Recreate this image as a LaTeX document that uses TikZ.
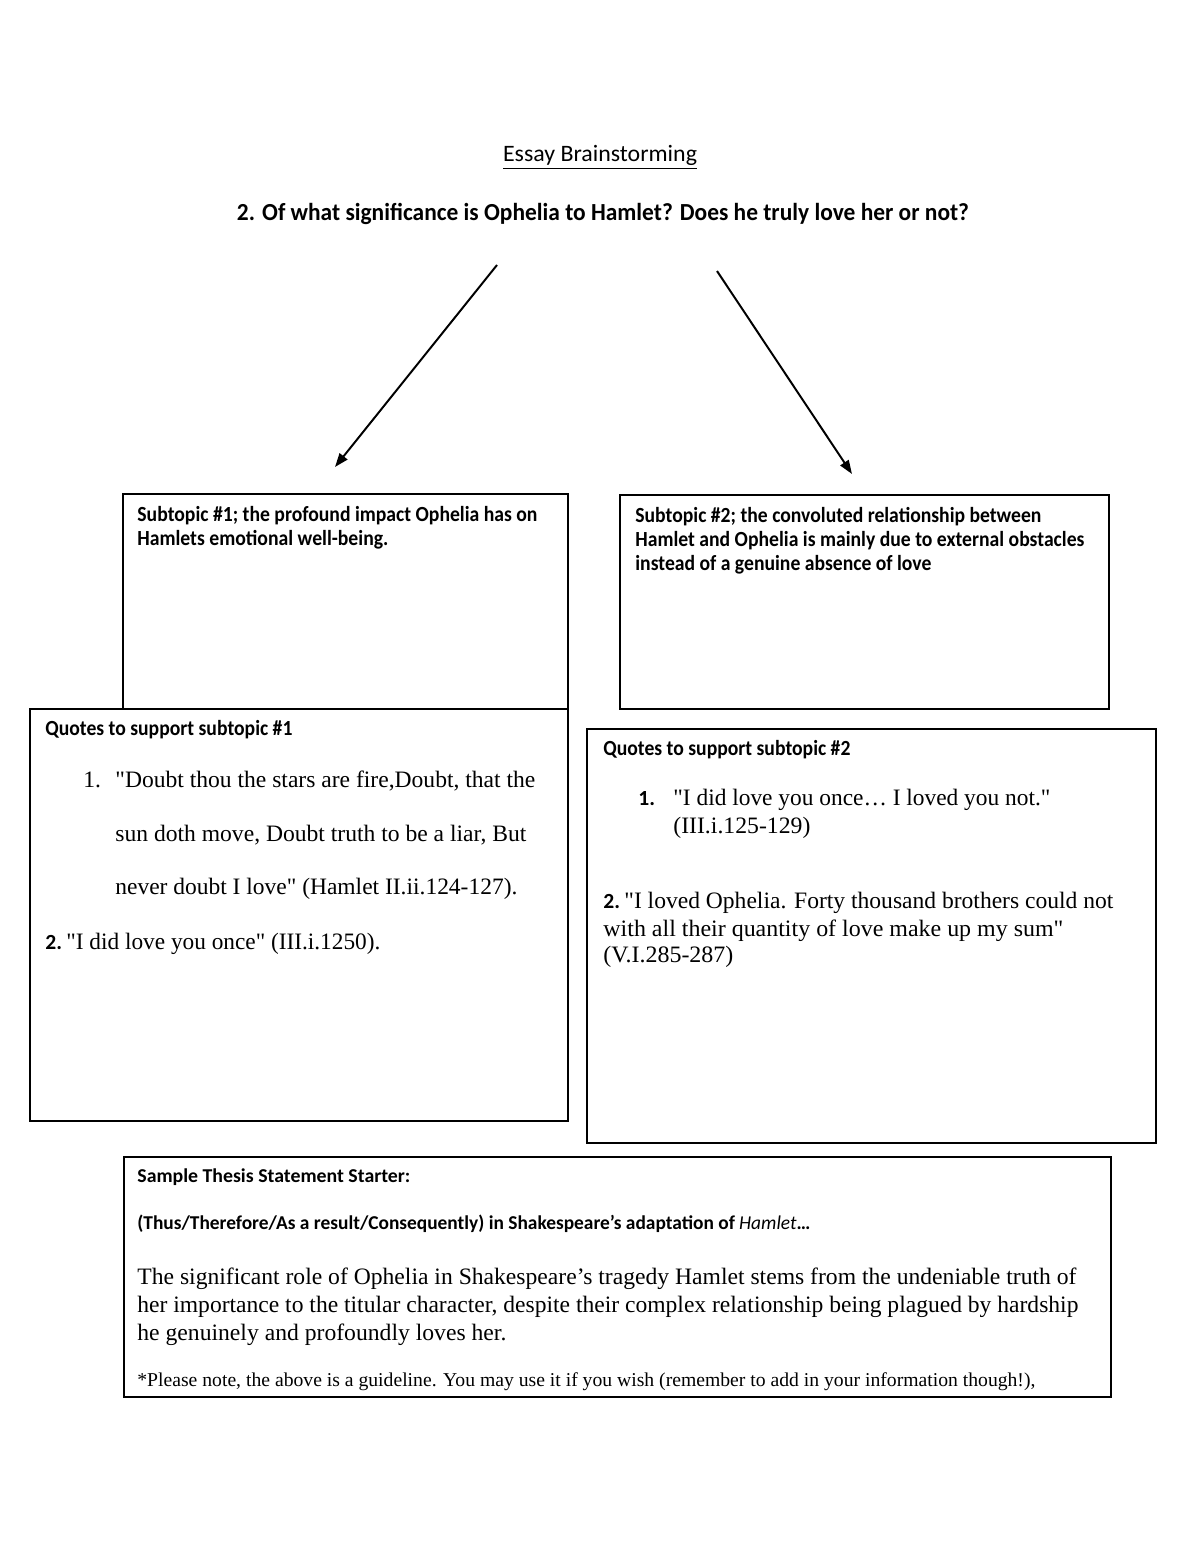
\documentclass[tikz,border=0pt]{standalone}
\usepackage{fontspec}
\usepackage{graphicx}
\setmainfont{Liberation Serif}[Ligatures=TeXOff]
\newfontfamily\calib{Carlito}[Ligatures=TeXOff]
\usetikzlibrary{arrows.meta,fit}
\newdimen\pxu \pxu=0.51pt
\newcommand\fw[2]{\resizebox{#1\pxu}{\height}{#2}}
\newcommand\dq{"}
\begin{document}
\begin{tikzpicture}[x=0.51pt,y=-0.51pt,
  box/.style={draw, line width=0.75pt, inner sep=0pt},
  t/.style={inner sep=0pt, anchor=base west},
  sb/.style={t, font=\calib\bfseries\fontsize{11}{13}\selectfont},
  tr/.style={t, font=\fontsize{12}{14}\selectfont},
  arr/.style={line width=1pt, -{Triangle[length=7pt,width=5pt]}}]
\useasboundingbox (0,0) rectangle (1200,1553);
\fill[white] (0,0) rectangle (1200,1553);

% headings
\node[inner sep=0pt, anchor=base] (title) at (600,162) {\calib\fontsize{12}{14}\selectfont\underline{\fw{194}{Essay Brainstorming}}};
\node[inner sep=0pt, anchor=base] (question) at (603,221) {\calib\bfseries\fontsize{12.5}{14}\selectfont\fw{732}{2. Of what significance is Ophelia to Hamlet? Does he truly love her or not?}};

% arrows
\coordinate (a1s) at (497,265);
\coordinate (a1e) at (335,467);
\coordinate (a2s) at (717,271);
\coordinate (a2e) at (852,474);
\draw[arr] (a1s) -- (a1e);
\draw[arr] (a2s) -- (a2e);

% boxes
\node[box, fit={(123,494) (568,709)}] (sub1) {};
\node[box, fit={(620,495) (1109,709)}] (sub2) {};
\node[box, fit={(30,709) (568,1121)}] (quo1) {};
\node[box, fit={(587,729) (1156,1143)}] (quo2) {};
\node[box, fit={(124,1157) (1111,1397)}] (thesis) {};

% subtopic 1
\node[sb] (s1a) at (137,521) {\fw{400}{Subtopic \#1; the profound impact Ophelia has on}};
\node[sb] (s1b) at (137,545) {\fw{251}{Hamlets emotional well-being.}};

% subtopic 2
\node[sb] (s2a) at (635,522) {\fw{406}{Subtopic \#2; the convoluted relationship between}};
\node[sb] (s2b) at (635,546) {\fw{449}{Hamlet and Ophelia is mainly due to external obstacles}};
\node[sb] (s2c) at (635,570) {\fw{296}{instead of a genuine absence of love}};

% quotes 1
\node[sb] (q1t) at (45,735) {\fw{247}{Quotes to support subtopic \#1}};
\node[tr] (q1n) at (83,787) {1.};
\node[tr] (q1a) at (115,787) {\fw{420}{"Doubt thou the stars are fire,Doubt, that the}};
\node[tr] (q1b) at (115,841) {\fw{411}{sun doth move, Doubt truth to be a liar, But}};
\node[tr] (q1c) at (115,894) {\fw{402}{never doubt I love" (Hamlet II.ii.124-127).}};
\node[sb] (q1m) at (45,949) {2.};
\node[tr] (q1d) at (66,949) {\fw{314}{"I did love you once" (III.i.1250).}};

% quotes 2
\node[sb] (q2t) at (603,755) {\fw{247}{Quotes to support subtopic \#2}};
\node[sb] (q2n) at (638,805) {1.};
\node[tr] (q2a) at (673,805) {\fw{377}{"I did love you once… I loved you not."}};
\node[tr] (q2b) at (673,833) {\fw{137}{(III.i.125-129)}};
\node[sb] (q2m) at (603,908) {2.};
\node[tr] (q2c) at (624,908) {\fw{489}{"I loved Ophelia. Forty thousand brothers could not}};
\node[tr] (q2d) at (603,936) {\fw{460}{with all their quantity of love make up my sum"}};
\node[tr] (q2e) at (603,962) {\fw{130}{(V.I.285-287)}};

% thesis
\node[t, font=\calib\bfseries\fontsize{10}{12}\selectfont] (th1) at (137,1182) {\fw{273}{Sample Thesis Statement Starter:}};
\node[t, font=\calib\bfseries\fontsize{10}{12}\selectfont] (th2) at (137,1229) {\fw{673}{(Thus/Therefore/As a result/Consequently) in Shakespeare’s adaptation of \textmd{\itshape Hamlet}…}};
\node[tr] (th3) at (137,1284) {\fw{939}{The significant role of Ophelia in Shakespeare’s tragedy Hamlet stems from the undeniable truth of}};
\node[tr] (th4) at (137,1312) {\fw{941}{her importance to the titular character, despite their complex relationship being plagued by hardship}};
\node[tr] (th5) at (137,1340) {\fw{369}{he genuinely and profoundly loves her.}};
\node[t, font=\fontsize{10}{12}\selectfont] (th6) at (137,1386) {\fw{898}{*Please note, the above is a guideline. You may use it if you wish (remember to add in your information though!),}};
\end{tikzpicture}
\end{document}
